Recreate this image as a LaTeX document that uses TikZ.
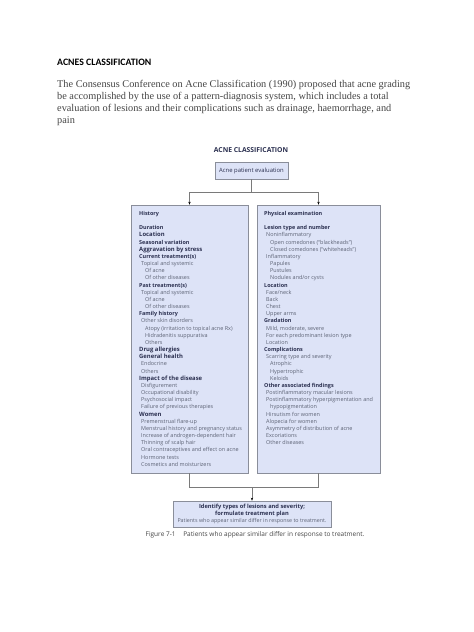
\documentclass[tikz,border=0pt]{standalone}
\usepackage{fontspec}
\setmainfont{Liberation Serif}
\newfontfamily\osans{Open Sans}
\newfontfamily\carl{Carlito}
\usetikzlibrary{arrows.meta}
\definecolor{boxfill}{HTML}{DDE3F7}
\definecolor{boxline}{HTML}{8A8E9A}
\definecolor{hdc}{HTML}{2B3050}
\definecolor{subc}{HTML}{5C6274}
\definecolor{paratext}{HTML}{454545}
\definecolor{conn}{HTML}{7A7A7A}
\newcommand\hd[1]{{\bfseries\color{hdc}#1}}
\newcommand\hdL[1]{{\fontsize{5.9}{7.17}\selectfont\bfseries\color{hdc}#1}}
\newcommand\la[1]{\hspace*{2pt}#1}
\newcommand\lb[1]{\hspace*{6pt}#1}
\tikzset{
  panel/.style={draw=boxline, fill=boxfill, line width=0.6pt, inner sep=0},
  listtext/.style={anchor=north west, inner sep=0, align=left, text=subc,
    font=\osans\fontsize{5.45}{7.17}\selectfont},
  paraline/.style={anchor=west, inner sep=0, text=paratext, font=\fontsize{10.3}{12}\selectfont},
  link/.style={draw=conn, line width=0.6pt},
  arr/.style={link, -{Stealth[length=3pt,width=2.4pt,black]}}
}
\begin{document}
\begin{tikzpicture}[x=1pt,y=-1pt]
\useasboundingbox[fill=white] (0,0) rectangle (474,632);

\node[anchor=west, inner sep=0, font=\carl\bfseries\fontsize{9.8}{11}\selectfont, text=black] (head) at (57,62) {ACNES CLASSIFICATION};
\node[paraline] (p1) at (57,85) {The Consensus Conference on Acne Classification (1990) proposed that acne grading};
\node[paraline] (p2) at (57,97) {be accomplished by the use of a pattern-diagnosis system, which includes a total};
\node[paraline] (p3) at (57,109) {evaluation of lesions and their complications such as drainage, haemorrhage, and};
\node[paraline] (p4) at (57,121) {pain};

\node[inner sep=0, font=\osans\bfseries\fontsize{6.8}{8}\selectfont, text=hdc] (title) at (251,150) {ACNE CLASSIFICATION};

\node[panel, minimum width=73pt, minimum height=17pt, font=\osans\fontsize{5.9}{7}\selectfont, text=hdc] (top) at (251.5,170.5) {Acne patient evaluation};

\node[panel, minimum width=117pt, minimum height=268pt] (lbox) at (189.5,339) {};
\node[panel, minimum width=123pt, minimum height=268pt] (rbox) at (318.5,339) {};

\node[listtext] (ltext) at (139,211) {%
\hd{History}\\
\mbox{}\\
\hd{Duration}\\
\hdL{Location}\\
\hd{Seasonal variation}\\
\hdL{Aggravation by stress}\\
\hd{Current treatment(s)}\\
\la{Topical and systemic}\\
\lb{Of acne}\\
\lb{Of other diseases}\\
\hd{Past treatment(s)}\\
\la{Topical and systemic}\\
\lb{Of acne}\\
\lb{Of other diseases}\\
\hd{Family history}\\
\la{Other skin disorders}\\
\lb{Atopy (irritation to topical acne Rx)}\\
\lb{Hidradenitis suppurativa}\\
\lb{Others}\\
\hdL{Drug allergies}\\
\hdL{General health}\\
\la{Endocrine}\\
\la{Others}\\
\hdL{Impact of the disease}\\
\la{Disfigurement}\\
\la{Occupational disability}\\
\la{Psychosocial impact}\\
\la{Failure of previous therapies}\\
\hdL{Women}\\
\la{Premenstrual flare-up}\\
\la{Menstrual history and pregnancy status}\\
\la{Increase of androgen-dependent hair}\\
\la{Thinning of scalp hair}\\
\la{Oral contraceptives and effect on acne}\\
\la{Hormone tests}\\
\la{Cosmetics and moisturizers}};

\node[listtext] (rtext) at (264,211) {%
\hd{Physical examination}\\
\mbox{}\\
\hd{Lesion type and number}\\
\la{Noninflammatory}\\
\lb{Open comedones (“blackheads”)}\\
\lb{Closed comedones (“whiteheads”)}\\
\la{Inflammatory}\\
\lb{Papules}\\
\lb{Pustules}\\
\lb{Nodules and/or cysts}\\
\hd{Location}\\
\la{Face/neck}\\
\la{Back}\\
\la{Chest}\\
\la{Upper arms}\\
\hd{Gradation}\\
\la{Mild, moderate, severe}\\
\la{For each predominant lesion type}\\
\la{Location}\\
\hd{Complications}\\
\la{Scarring type and severity}\\
\lb{Atrophic}\\
\lb{Hypertrophic}\\
\lb{Keloids}\\
\hd{Other associated findings}\\
\la{Postinflammatory macular lesions}\\
\la{Postinflammatory hyperpigmentation and}\\
\lb{hypopigmentation}\\
\la{Hirsutism for women}\\
\la{Alopecia for women}\\
\la{Asymmetry of distribution of acne}\\
\la{Excoriations}\\
\la{Other diseases}};

\node[panel, minimum width=158pt, minimum height=26pt] (bot) at (252,514) {};
\node[inner sep=0, align=center, font=\osans\fontsize{5.7}{6.8}\selectfont, text=hdc] (bottext) at (252,514) {%
\textbf{Identify types of lesions and severity;}\\
\textbf{formulate treatment plan}\\
{\fontsize{5.35}{6.8}\selectfont\color{subc}Patients who appear similar differ in response to treatment.}};

\node[inner sep=0, font=\osans\fontsize{6.5}{8}\selectfont, text=paratext] (cap) at (255,535) {Figure 7-1\hspace{6pt} Patients who appear similar differ in response to treatment.};

\coordinate (jt) at (251.5,192);
\coordinate (jb) at (252,487);
\draw[link] (top.south) -- (jt);
\draw[arr] (jt) -| (lbox.north);
\draw[arr] (jt) -| (rbox.north);
\draw[link] (lbox.south) |- (jb);
\draw[link] (rbox.south) |- (jb);
\draw[arr] (jb) -- (bot.north);
\end{tikzpicture}
\end{document}
